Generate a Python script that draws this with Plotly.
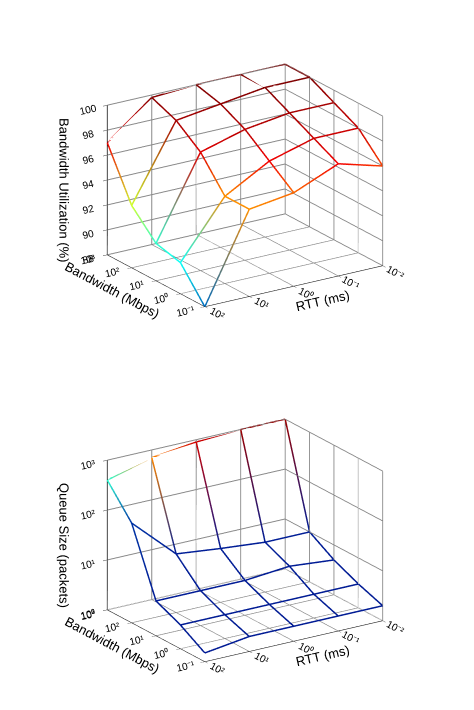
import plotly.graph_objects as go
import numpy as np

bw_exp = [-1, 0, 1, 2, 3]          # Bandwidth (Mbps) = 10^exp
rtt_exp = [-2, -1, 0, 1, 2]        # RTT (ms) = 10^exp
# rows: bandwidth 0.1..1000, cols: RTT 0.01..100
util = [
    [96.0, 97.0, 95.5, 95.0, 88.0],
    [98.0, 98.0, 97.0, 95.0, 90.5],
    [99.0, 99.0, 98.5, 97.5, 91.0],
    [100.0, 100.0, 99.5, 99.0, 93.0],
    [100.0, 100.0, 100.0, 99.8, 97.0],
]
queue = [
    [2, 2, 2, 2, 1.5],
    [3, 3, 3, 3, 3],
    [5, 6, 5, 5, 5],
    [10, 10, 12, 15, 100],
    [1000, 1000, 900, 700, 400],
]

sup = {-2: "10⁻²", -1: "10⁻¹", 0: "10⁰", 1: "10¹", 2: "10²", 3: "10³"}
fig = go.Figure()

def mesh(z, c, scene, cmin, cmax):
    for i in range(5):
        fig.add_trace(go.Scatter3d(x=[bw_exp[i]]*5, y=rtt_exp, z=z[i], mode="lines",
            line=dict(color=c[i], colorscale="Jet", cmin=cmin, cmax=cmax, width=3),
            scene=scene, showlegend=False))
    for j in range(5):
        zc = [z[i][j] for i in range(5)]
        cc = [c[i][j] for i in range(5)]
        fig.add_trace(go.Scatter3d(x=bw_exp, y=[rtt_exp[j]]*5, z=zc, mode="lines",
            line=dict(color=cc, colorscale="Jet", cmin=cmin, cmax=cmax, width=3),
            scene=scene, showlegend=False))

mesh(util, util, "scene", 84, 100)
qlog = [[float(np.log10(v)) for v in r] for r in queue]
mesh(qlog, queue, "scene2", -100, 1050)

ax = dict(showbackground=False, gridcolor="#888", linecolor="black", showline=True,
          tickfont=dict(size=11), ticks="outside")
cam = dict(eye=dict(x=-1.9, y=1.25, z=0.85), projection=dict(type="orthographic"))
common = dict(
    xaxis=dict(ax, title=dict(text="Bandwidth (Mbps)"), tickvals=bw_exp,
               ticktext=[sup[e] for e in bw_exp], range=[-1, 3]),
    yaxis=dict(ax, title=dict(text="RTT (ms)"), tickvals=rtt_exp,
               ticktext=[sup[e] for e in rtt_exp], range=[-2, 2]),
    camera=cam, aspectmode="manual", aspectratio=dict(x=1, y=1.2, z=0.9))
fig.update_layout(
    width=474, height=710, paper_bgcolor="white", margin=dict(l=0, r=0, t=0, b=0),
    font=dict(family="Liberation Sans", size=11, color="black"),
    scene=dict(common, domain=dict(x=[0, 1], y=[0.5, 1]),
               zaxis=dict(ax, title=dict(text="Bandwidth Utilization (%)"),
                          range=[88, 100], tickvals=[88, 90, 92, 94, 96, 98, 100])),
    scene2=dict(common, domain=dict(x=[0, 1], y=[0, 0.5]),
                zaxis=dict(ax, title=dict(text="Queue Size (packets)"), range=[0, 3],
                           tickvals=[0, 1, 2, 3], ticktext=["10⁰", "10¹", "10²", "10³"])),
)
fig.write_html("out.html")
